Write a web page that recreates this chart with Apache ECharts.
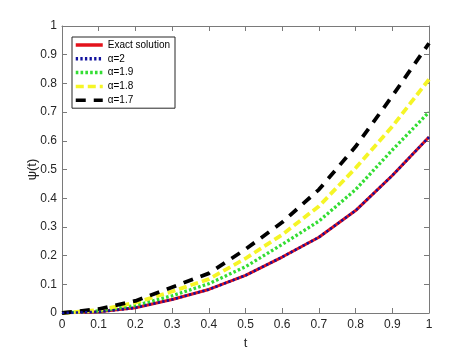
<!DOCTYPE html>
<html>
<head>
<meta charset="utf-8">
<script src="https://cdn.jsdelivr.net/npm/echarts@6/dist/echarts.min.js"></script>
<style>
html,body{margin:0;padding:0;background:#fff;}
#c{width:474px;height:355px;}
</style>
</head>
<body>
<div id="c"></div>
<script>
var tValues = [0, 0.1, 0.2, 0.3, 0.4, 0.5, 0.6, 0.7, 0.8, 0.9, 1];
var exactSolution = [0, 0.004, 0.018, 0.047, 0.082, 0.131, 0.195, 0.264, 0.357, 0.479, 0.613];
var alpha2 = [0, 0.004, 0.018, 0.047, 0.082, 0.131, 0.195, 0.264, 0.357, 0.479, 0.613];
var alpha19 = [0, 0.007, 0.026, 0.060, 0.102, 0.161, 0.239, 0.320, 0.430, 0.568, 0.700];
var alpha18 = [0, 0.010, 0.036, 0.075, 0.118, 0.190, 0.273, 0.372, 0.505, 0.650, 0.814];
var alpha17 = [0, 0.014, 0.042, 0.090, 0.138, 0.222, 0.316, 0.430, 0.580, 0.756, 0.940];
var seriesNames = ['Exact solution', '\u03b1=2', '\u03b1=1.9', '\u03b1=1.8', '\u03b1=1.7'];
var xTickLabels = ['0', '0.1', '0.2', '0.3', '0.4', '0.5', '0.6', '0.7', '0.8', '0.9', '1'];
var yTickLabels = ['0', '0.1', '0.2', '0.3', '0.4', '0.5', '0.6', '0.7', '0.8', '0.9', '1'];

function pairs(ys) { return tValues.map(function (t, i) { return [t, ys[i]]; }); }
function tickLabel(arr) {
  return function (v) { var i = Math.round(v * 10); return arr[i] !== undefined ? arr[i] : ''; };
}

var axisColor = '#7a7a7a';
var textColor = '#262626';
var font = 'Liberation Sans';

function mkAxis(isX, pos, showLabel, labels) {
  return {
    type: 'value', position: pos, min: 0, max: 1, interval: 0.1,
    axisLine: { show: true, onZero: false, lineStyle: { color: axisColor, width: 1 } },
    axisTick: { show: true, inside: true, length: 5, lineStyle: { color: axisColor } },
    splitLine: { show: false },
    axisLabel: {
      show: showLabel, color: textColor, fontFamily: font, fontSize: 12,
      margin: isX ? 6 : 5, formatter: tickLabel(labels)
    }
  };
}

var xMain = mkAxis(true, 'bottom', true, xTickLabels);
xMain.name = 't'; xMain.nameLocation = 'middle'; xMain.nameGap = 24;
xMain.nameTextStyle = { color: textColor, fontFamily: font, fontSize: 13 };
var yMain = mkAxis(false, 'left', true, yTickLabels);
yMain.name = '\u03c8(t)'; yMain.nameLocation = 'middle'; yMain.nameGap = 23;
yMain.nameMoveOverlap = false;
yMain.nameTextStyle = { color: textColor, fontFamily: font, fontSize: 13 };

var chart = echarts.init(document.getElementById('c'), null, { renderer: 'canvas' });
chart.setOption({
  backgroundColor: '#ffffff',
  animation: false,
  grid: { left: 62, top: 26, width: 367, height: 290, containLabel: false },
  xAxis: [xMain, mkAxis(true, 'top', false, xTickLabels)],
  yAxis: [yMain, mkAxis(false, 'right', false, yTickLabels)],
  legend: {
    orient: 'vertical', left: 72, top: 37,
    backgroundColor: '#ffffff', borderColor: '#262626', borderWidth: 1, borderRadius: 0,
    padding: [3, 5, 3, 2], itemGap: 3.8, itemWidth: 27, itemHeight: 12,
    itemStyle: { opacity: 0 },
    lineStyle: { width: 3.5 },
    textStyle: { color: '#000', fontFamily: font, fontSize: 10 },
    data: seriesNames
  },
  series: [
    { name: seriesNames[0], type: 'line', data: pairs(exactSolution), symbol: 'none',
      lineStyle: { color: '#e3121b', width: 3 }, itemStyle: { color: '#e3121b' }, z: 2 },
    { name: seriesNames[1], type: 'line', data: pairs(alpha2), symbol: 'none',
      lineStyle: { color: '#12129e', width: 2.6, type: [2.3, 2.3] }, itemStyle: { color: '#12129e' }, z: 3 },
    { name: seriesNames[2], type: 'line', data: pairs(alpha19), symbol: 'none',
      lineStyle: { color: '#33dd33', width: 3.3, type: [2.6, 2.2] }, itemStyle: { color: '#33dd33' }, z: 2 },
    { name: seriesNames[3], type: 'line', data: pairs(alpha18), symbol: 'none',
      lineStyle: { color: '#f5f526', width: 3.8, type: [8, 4] }, itemStyle: { color: '#f5f526' }, z: 2 },
    { name: seriesNames[4], type: 'line', data: pairs(alpha17), symbol: 'none',
      lineStyle: { color: '#000000', width: 3.8, type: [10, 8] }, itemStyle: { color: '#000000' }, z: 2 }
  ]
});
</script>
</body>
</html>
